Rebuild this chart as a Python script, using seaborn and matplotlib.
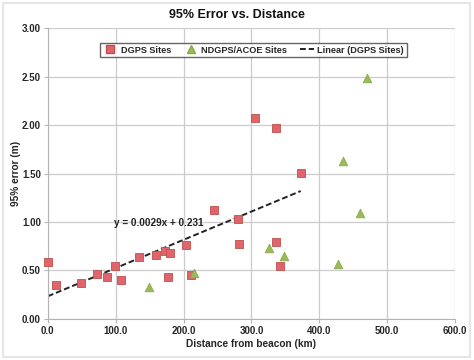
import pandas as pd
import seaborn as sns
import matplotlib.pyplot as plt
from matplotlib.patches import Rectangle
from matplotlib.lines import Line2D
from matplotlib.ticker import FormatStrFormatter

# DGPS sites: distance (km), 95% error (m)
dgps_dist = [0.0, 11.8, 48.7, 71.8, 86.5, 99.2, 108.0, 133.7, 159.7, 172.9, 180.3,
             176.9, 203.9, 210.8, 245.2, 280.1, 281.6, 305.6, 335.7, 372.6, 336.6, 341.6]
dgps_err = [0.59, 0.35, 0.37, 0.46, 0.43, 0.55, 0.40, 0.64, 0.66, 0.70, 0.68,
            0.43, 0.76, 0.45, 1.12, 1.03, 0.77, 2.07, 1.97, 1.51, 0.79, 0.55]

# NDGPS/ACOE sites
nd_dist = [148.9, 215.2, 325.8, 347.9, 434.5, 459.5, 427.5, 470.3]
nd_err = [0.33, 0.47, 0.73, 0.65, 1.63, 1.09, 0.57, 2.48]

dgps = pd.DataFrame({'dist': dgps_dist, 'err': dgps_err})
nd = pd.DataFrame({'dist': nd_dist, 'err': nd_err})

red_face, red_edge = '#E0646B', '#C0504D'
green_face, green_edge = '#9BBB59', '#8AAA4A'
line_col = '#222222'

sns.set_style('white')
plt.rcParams['font.family'] = ['Liberation Sans', 'DejaVu Sans']
plt.rcParams['font.weight'] = 'bold'

fig = plt.figure(figsize=(4.74, 3.6), dpi=100)
ax = fig.add_axes([0.101, 0.114, 0.859, 0.808])

fig.patches.append(Rectangle((0.006, 0.008), 0.985, 0.984, transform=fig.transFigure,
                             fill=False, edgecolor='#e6e6e6', linewidth=1.5))

sns.scatterplot(x='dist', y='err', data=dgps, ax=ax, marker='s', s=34,
                color=red_face, edgecolor=red_edge, linewidth=0.6,
                zorder=3, clip_on=False, legend=False)
sns.scatterplot(x='dist', y='err', data=nd, ax=ax, marker='^', s=38,
                color=green_face, edgecolor=green_edge, linewidth=0.6,
                zorder=3, clip_on=False, legend=False)
sns.regplot(x='dist', y='err', data=dgps, ax=ax, scatter=False, ci=None,
            color=line_col, line_kws={'linestyle': (0, (3, 1.5)), 'linewidth': 1.4,
                                      'zorder': 2})

ax.text(97, 0.96, 'y = 0.0029x + 0.231', fontsize=7.2, fontweight='bold', color=line_col)

ax.set_xlim(0, 600)
ax.set_ylim(0, 3.0)
ax.set_xticks(range(0, 601, 100))
ax.set_yticks([0, 0.5, 1.0, 1.5, 2.0, 2.5, 3.0])
ax.xaxis.set_major_formatter(FormatStrFormatter('%.1f'))
ax.yaxis.set_major_formatter(FormatStrFormatter('%.2f'))
ax.grid(True, color='#cccccc', linewidth=0.9)
ax.set_axisbelow(True)
for side in ['top', 'right']:
    ax.spines[side].set_visible(False)
for side in ['left', 'bottom']:
    ax.spines[side].set_color('#b4b4b4')
ax.tick_params(axis='both', labelsize=7, length=3, color='#b4b4b4', pad=2,
               direction='out', bottom=True, left=True)
for lab in ax.get_xticklabels() + ax.get_yticklabels():
    lab.set_fontweight('bold')

ax.set_xlabel('Distance from beacon (km)', fontsize=7.3, fontweight='bold', labelpad=2)
ax.set_ylabel('95% error (m)', fontsize=7.3, fontweight='bold', labelpad=1)
fig.text(0.5, 0.958, '95% Error vs. Distance', fontsize=9, fontweight='bold',
         ha='center', va='center', color='#111111')

handles = [
    Line2D([], [], linestyle='none', marker='s', markersize=5.5,
           markerfacecolor=red_face, markeredgecolor=red_edge),
    Line2D([], [], linestyle='none', marker='^', markersize=6,
           markerfacecolor=green_face, markeredgecolor=green_edge),
    Line2D([], [], color=line_col, linestyle=(0, (3, 1.5)), linewidth=1.4),
]
labels = ['DGPS Sites', 'NDGPS/ACOE Sites', 'Linear (DGPS Sites)']
leg = ax.legend(handles, labels, loc='upper center', bbox_to_anchor=(0.505, 0.965), ncol=3,
                fontsize=6.6, frameon=True, fancybox=False, borderpad=0.3,
                handlelength=1.6, handletextpad=0.3, columnspacing=1.4)
leg.get_frame().set_edgecolor('#404040')
leg.get_frame().set_linewidth(1.0)
for t in leg.get_texts():
    t.set_fontweight('bold')

fig.savefig('out.png', dpi=100)
